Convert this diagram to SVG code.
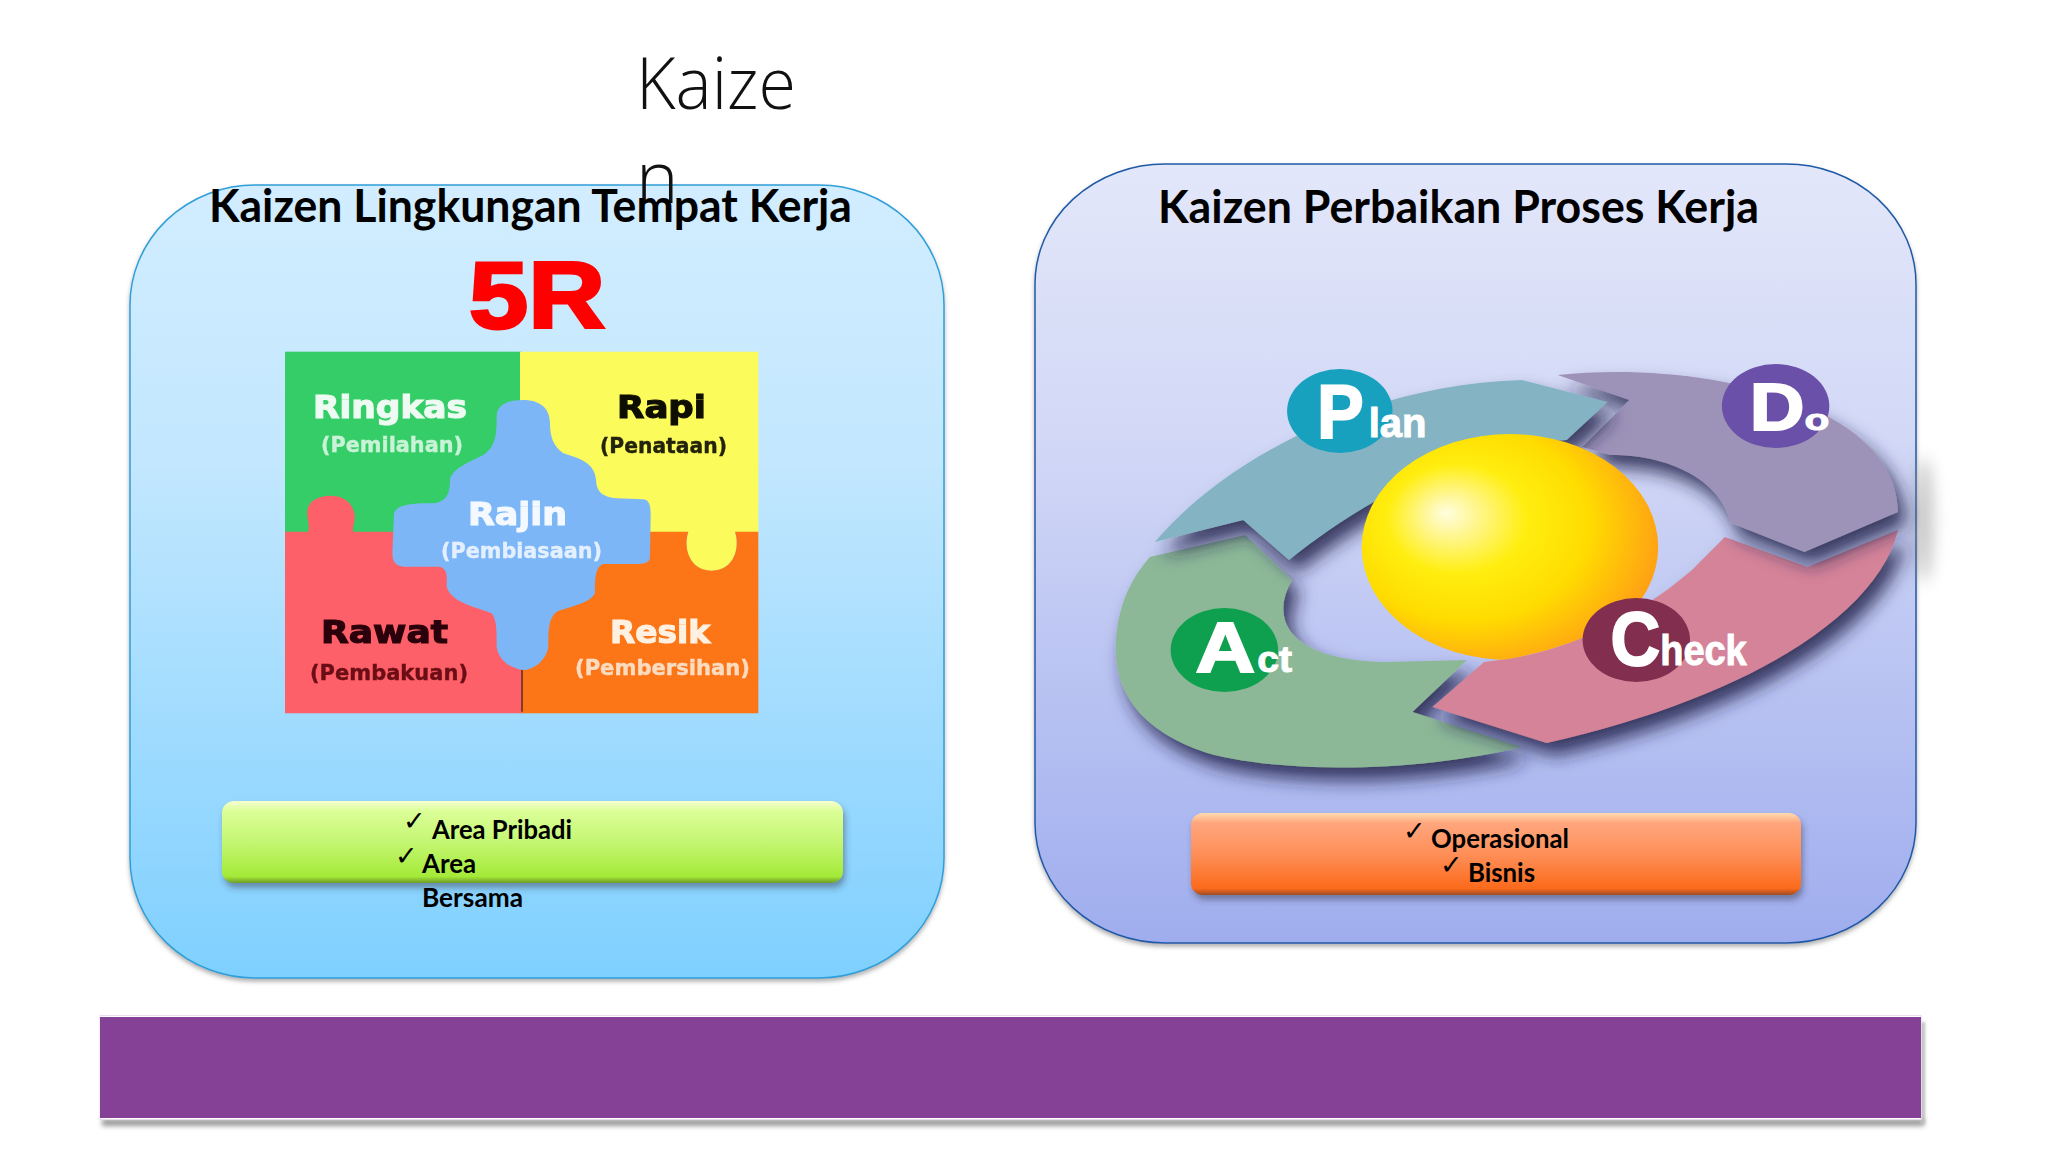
<svg xmlns="http://www.w3.org/2000/svg" width="2048" height="1152" viewBox="0 0 2048 1152">
<style>
.h{font-family:"Lato","Liberation Sans",sans-serif;font-weight:700;font-size:45px;fill:#000}
.b{font-family:"Lato","Liberation Sans",sans-serif;font-weight:700;font-size:26px;fill:#000}
.ck{font-family:"DejaVu Sans",sans-serif;font-size:27px;fill:#000}
.t1{font-family:"DejaVu Sans",sans-serif;font-weight:700;font-size:32px;stroke-width:1.2px}
.t2{font-family:"DejaVu Sans",sans-serif;font-weight:700;font-size:22px;stroke-width:.4px}
.big{font-family:"Liberation Sans",sans-serif;font-weight:700;fill:#fff;stroke:#fff;stroke-width:2px}
.sm{font-family:"Liberation Sans",sans-serif;font-weight:700;fill:#fff;stroke:#fff;stroke-width:1px}
</style>
<defs>
<linearGradient id="gL" x1="0" y1="0" x2="0" y2="1"><stop offset="0" stop-color="#d2edff"/><stop offset=".35" stop-color="#c2e7fe"/><stop offset="1" stop-color="#7fd0ff"/></linearGradient>
<linearGradient id="gR" x1="0" y1="0" x2="0" y2="1"><stop offset="0" stop-color="#e3e7fa"/><stop offset=".35" stop-color="#d2d8f6"/><stop offset="1" stop-color="#9fadee"/></linearGradient>
<linearGradient id="gG" x1="0" y1="0" x2="0" y2="1"><stop offset="0" stop-color="#f6ffd0"/><stop offset=".12" stop-color="#dcff98"/><stop offset=".5" stop-color="#c4f672"/><stop offset=".92" stop-color="#a4ea38"/><stop offset="1" stop-color="#6f9c28"/></linearGradient>
<linearGradient id="gO" x1="0" y1="0" x2="0" y2="1"><stop offset="0" stop-color="#ffdcb0"/><stop offset=".12" stop-color="#ffa67e"/><stop offset=".5" stop-color="#fe8f58"/><stop offset=".92" stop-color="#fc6a1c"/><stop offset="1" stop-color="#9c4c24"/></linearGradient>
<radialGradient id="ball" gradientUnits="userSpaceOnUse" cx="1480" cy="530" r="200" fx="1447" fy="508" gradientTransform="translate(1480 530) scale(1 .78) translate(-1480 -530)"><stop offset="0" stop-color="#fffde0"/><stop offset=".12" stop-color="#fff79a"/><stop offset=".35" stop-color="#ffee10"/><stop offset=".62" stop-color="#ffdc00"/><stop offset="1" stop-color="#ff9518"/></radialGradient>
<filter id="sP" x="-5%" y="-5%" width="110%" height="110%"><feDropShadow dx="0" dy="3" stdDeviation="2" flood-color="#666" flood-opacity=".5"/></filter>
<filter id="sB" x="-5%" y="-20%" width="110%" height="140%"><feDropShadow dx="2" dy="5" stdDeviation="3" flood-color="#334" flood-opacity=".45"/></filter>
<filter id="sA" x="-25%" y="-25%" width="150%" height="150%"><feDropShadow dx="8" dy="13" stdDeviation="9" flood-color="#1a2048" flood-opacity=".85"/></filter>
<filter id="soft" x="-5%" y="-5%" width="110%" height="110%"><feGaussianBlur stdDeviation=".6"/></filter>
<filter id="blur3" x="-5%" y="-100%" width="110%" height="300%"><feGaussianBlur stdDeviation="2.5"/></filter>
<filter id="blur2" x="-200%" y="-5%" width="500%" height="110%"><feGaussianBlur stdDeviation="1.5"/></filter>
<filter id="smudge" x="-100%" y="-30%" width="300%" height="160%"><feGaussianBlur stdDeviation="8"/></filter>
<clipPath id="ballClip"><path d="M1300,380H1760V570H1695C1630,625 1560,655 1486,662H1300Z"/></clipPath>
</defs>

<rect width="2048" height="1152" fill="#fff"/>

<g id="panel-left"><rect x="130" y="185" width="814" height="793" rx="125" ry="120" fill="url(#gL)" stroke="#2e9fd8" stroke-width="1.5" filter="url(#sP)"/></g>
<g id="panel-right"><rect x="1035" y="164" width="881" height="779" rx="130" ry="120" fill="url(#gR)" stroke="#1f5aa8" stroke-width="1.5" filter="url(#sP)"/></g>

<g id="title"><text x="636" y="109" font-family="'Open Sans','Noto Sans',sans-serif" font-weight="300" font-size="72" textLength="160" lengthAdjust="spacingAndGlyphs" fill="#111">Kaize</text>
<text x="636" y="203" font-family="'Open Sans','Noto Sans',sans-serif" font-weight="300" font-size="72" fill="#111">n</text></g>

<g id="heading-left"><text class="h" x="209" y="222" textLength="643" lengthAdjust="spacingAndGlyphs">Kaizen Lingkungan Tempat Kerja</text>
<text x="469" y="328" font-family="'Liberation Sans',sans-serif" font-weight="700" font-size="95" fill="#f00" stroke="#f00" stroke-width="3" textLength="136" lengthAdjust="spacingAndGlyphs">5R</text></g>
<g id="heading-right"><text class="h" x="1158" y="223" textLength="601" lengthAdjust="spacingAndGlyphs">Kaizen Perbaikan Proses Kerja</text></g>

<g id="puzzle">
<g transform="translate(270 340) scale(.33333)" filter="url(#soft)">
<rect x="45" y="35" width="710" height="545" fill="#34cd67"/>
<path d="M750,35H1465V580H1395C1410,620 1395,690 1325,692C1255,690 1240,620 1255,580H750Z" fill="#fcfb5c"/>
<path d="M45,575H115C120,545 105,525 115,500C130,460 230,450 250,510C262,540 245,555 250,575H760V1120H45Z" fill="#fd6168"/>
<path d="M755,575H1255C1240,620 1255,690 1325,692C1395,690 1410,620 1395,575H1465V1120H755Z" fill="#fc7416"/>
<path d="M680,230C680,190 720,180 760,180C810,180 840,205 840,250C840,290 850,320 880,340C930,355 975,370 978,420C980,450 990,470 1040,475L1120,478C1140,480 1142,500 1142,530L1140,650C1140,670 1120,672 1090,672L1000,672C975,680 975,720 975,760C960,790 900,800 860,815C835,835 835,870 835,920C830,960 790,990 760,990C720,985 685,960 680,920C680,870 680,840 665,820C620,800 545,790 530,740C530,710 535,690 510,680L400,680C370,675 365,660 368,620L372,520C380,495 420,490 480,490C530,490 540,460 540,420C545,385 600,365 640,345C675,320 680,290 680,230Z" fill="#7db6f6"/>
<path d="M756,990V1115" stroke="#3a2a20" stroke-width="4" fill="none"/>
</g>
<g filter="url(#soft)">
<text class="t1" x="313" y="418" fill="#eefbf2" stroke="#eefbf2" textLength="154" lengthAdjust="spacingAndGlyphs">Ringkas</text>
<text class="t2" x="321" y="452" fill="#c9f2d6" stroke="#c9f2d6" textLength="142" lengthAdjust="spacingAndGlyphs">(Pemilahan)</text>
<text class="t1" x="617" y="418" fill="#0c0c00" stroke="#0c0c00" textLength="89" lengthAdjust="spacingAndGlyphs">Rapi</text>
<text class="t2" x="600" y="453" fill="#22220a" stroke="#22220a" textLength="127" lengthAdjust="spacingAndGlyphs">(Penataan)</text>
<text class="t1" x="468" y="525" fill="#f4f9ff" stroke="#f4f9ff" textLength="99" lengthAdjust="spacingAndGlyphs">Rajin</text>
<text class="t2" x="441" y="558" fill="#e4f0ff" stroke="#e4f0ff" textLength="161" lengthAdjust="spacingAndGlyphs">(Pembiasaan)</text>
<text class="t1" x="321" y="643" fill="#2a0508" stroke="#2a0508" textLength="127" lengthAdjust="spacingAndGlyphs">Rawat</text>
<text class="t2" x="310" y="680" fill="#6b0c14" stroke="#6b0c14" textLength="158" lengthAdjust="spacingAndGlyphs">(Pembakuan)</text>
<text class="t1" x="610" y="643" fill="#fff1e2" stroke="#fff1e2" textLength="100" lengthAdjust="spacingAndGlyphs">Resik</text>
<text class="t2" x="575" y="675" fill="#fbdcc0" stroke="#fbdcc0" textLength="175" lengthAdjust="spacingAndGlyphs">(Pembersihan)</text>
</g>
</g>

<g id="pdca" transform="translate(5.5 0) scale(.995 1)">
<ellipse cx="1928" cy="520" rx="9" ry="62" fill="#888" opacity=".5" filter="url(#smudge)"/>
<g id="arrow-act"><path d="M1246,535L1293,580C1270,620 1290,660 1387,662L1469,660L1414,712L1524,747C1430,770 1300,775 1215,755C1130,730 1110,680 1117,630C1122,595 1135,575 1150,557Z" fill="#8cb898" filter="url(#sA)"/></g>
<g id="arrow-check"><path d="M1728,537L1811,567L1902,530C1880,620 1740,700 1549,743L1434,707L1486,662C1560,655 1630,625 1695,570Z" fill="#d48399" filter="url(#sA)"/></g>
<g id="arrow-do"><path d="M1560,375C1700,360 1900,400 1902,512L1808,552L1734,523C1725,485 1680,455 1613,455L1585,447L1632,400Z" fill="#9d93b8" filter="url(#sA)"/></g>
<g id="arrow-plan"><path d="M1155,542C1230,455 1370,385 1524,380L1610,402L1569,440C1490,445 1390,480 1290,560L1244,520Z" fill="#84b4c4" filter="url(#sA)"/></g>
<g id="ball-core"><ellipse cx="1512" cy="547" rx="149" ry="113" fill="url(#ball)" clip-path="url(#ballClip)"/></g>
<g id="plan"><ellipse cx="1341" cy="411" rx="53" ry="42" fill="#18a0bf"/><text class="big" x="1318" y="438" font-size="76" textLength="47" lengthAdjust="spacingAndGlyphs">P</text><text class="sm" x="1370" y="437" font-size="40" textLength="58" lengthAdjust="spacingAndGlyphs">lan</text></g>
<g id="do"><ellipse cx="1779" cy="406" rx="54" ry="42" fill="#6a50a8"/><text class="big" x="1753" y="430" font-size="66" textLength="55" lengthAdjust="spacingAndGlyphs">D</text><text class="sm" x="1808" y="430" font-size="30" textLength="25" lengthAdjust="spacingAndGlyphs">o</text></g>
<g id="check"><ellipse cx="1639" cy="640" rx="54" ry="42" fill="#822f4f"/><text class="big" x="1613" y="665" font-size="76" textLength="50" lengthAdjust="spacingAndGlyphs">C</text><text class="sm" x="1663" y="665" font-size="42" textLength="87" lengthAdjust="spacingAndGlyphs">heck</text></g>
<g id="act"><ellipse cx="1225" cy="650" rx="54" ry="42" fill="#0fa04f"/><text class="big" x="1196" y="672" font-size="70" textLength="60" lengthAdjust="spacingAndGlyphs">A</text><text class="sm" x="1258" y="672" font-size="36" textLength="35" lengthAdjust="spacingAndGlyphs">ct</text></g>
</g>

<g id="bar-left"><rect x="222" y="801" width="621" height="82" rx="12" fill="url(#gG)" filter="url(#sB)"/>
<text class="ck" x="403" y="830">✓</text><text class="b" x="432" y="839" textLength="140" lengthAdjust="spacingAndGlyphs">Area Pribadi</text>
<text class="ck" x="395" y="865">✓</text><text class="b" x="422" y="873" textLength="54" lengthAdjust="spacingAndGlyphs">Area</text>
<text class="b" x="422" y="907" textLength="101" lengthAdjust="spacingAndGlyphs">Bersama</text></g>
<g id="bar-right"><rect x="1191" y="813" width="610" height="82" rx="12" fill="url(#gO)" filter="url(#sB)"/>
<text class="ck" x="1403" y="840">✓</text><text class="b" x="1431" y="848" textLength="138" lengthAdjust="spacingAndGlyphs">Operasional</text>
<text class="ck" x="1440" y="874">✓</text><text class="b" x="1468" y="882" textLength="67" lengthAdjust="spacingAndGlyphs">Bisnis</text></g>

<g id="footer-band"><rect x="102" y="1119" width="1822" height="7" fill="#999" filter="url(#blur3)"/><rect x="1921" y="1022" width="4" height="102" fill="#bbb" filter="url(#blur2)"/><rect x="100" y="1015.5" width="1821" height="104" fill="#fff" stroke="#e8dced" stroke-width="1"/><rect x="100" y="1017" width="1821" height="101" fill="#844195"/></g>
</svg>
